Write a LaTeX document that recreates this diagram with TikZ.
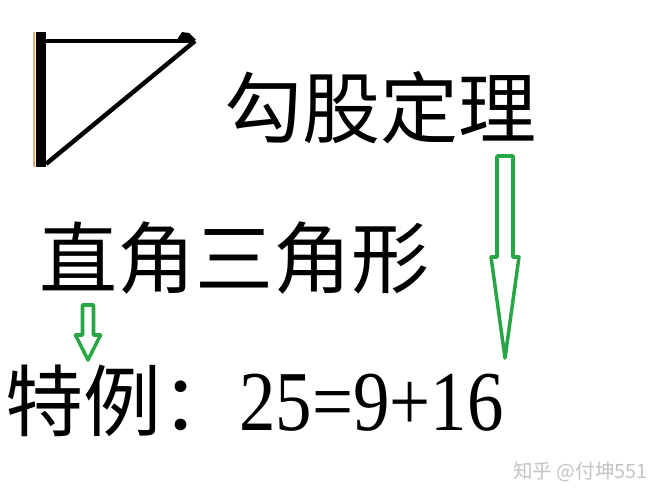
\documentclass[tikz,border=0pt]{standalone}
\usepackage{fontspec}
\setmainfont{Liberation Serif}
\newfontfamily\cjk{Noto Sans CJK SC}
\usetikzlibrary{calc}
\definecolor{arrowgreen}{RGB}{40,165,70}
\definecolor{edgetan}{RGB}{225,170,110}
\definecolor{markgray}{RGB}{195,195,195}
\begin{document}
\begin{tikzpicture}[x=0.03cm, y=-0.03cm,
        bigtext/.style={inner sep=0pt, anchor=base west, font=\cjk\fontsize{66.6}{70}\selectfont},
        hollow/.style={draw=arrowgreen, line width=3pt, line join=round}]
        \useasboundingbox (0,0) rectangle (667,500);

        % Draw the right triangle (thick left leg)
        \draw[edgetan, line width=2.5pt] (34,32) -- (34,167);
        \fill (36,32) rectangle (46,167);
        \draw[line width=2.6pt] (46,41) -- (195,41);
        \draw[line width=3.8pt] (195,41) -- (46,164);
        \fill (176,41) -- (182,32) -- (189,33) -- (196,40) -- cycle;

        % Labels
        \node[bigtext] (pythag) at (224,137.5) {勾股定理};
        \node[bigtext] (righttri) at (39,287.5) {直角三角形};
        \node[bigtext] (special) at (5,430) {特例：\rmfamily\fontsize{62.2}{70}\selectfont\scalebox{1}[1.17]{25=9+16}};

        % Hollow arrows down to the example
        \coordinate (longtail) at (505,156);
        \coordinate (longtip) at (505,358);
        \draw[hollow] ($(longtail)+(-8,0)$) -- ($(longtail)+(8,0)$) -- ($(longtail)+(8,101)$)
            -- ($(longtail)+(14,101)$) -- (longtip) -- ($(longtail)+(-14,101)$)
            -- ($(longtail)+(-8,101)$) -- cycle;
        \coordinate (shorttail) at (88,305);
        \coordinate (shorttip) at (88,360);
        \draw[hollow] ($(shorttail)+(-5.5,0)$) -- ($(shorttail)+(5.5,0)$) -- ($(shorttail)+(5.5,30)$)
            -- ($(shorttail)+(12.5,30)$) -- (shorttip) -- ($(shorttail)+(-12.5,30)$)
            -- ($(shorttail)+(-5.5,30)$) -- cycle;

        % Watermark
        \node[anchor=west, inner sep=0pt, text=markgray, font=\cjk\fontsize{16.8}{18}\selectfont] (mark) at (513,472) {知乎 @付坤551};
    \end{tikzpicture}
\end{document}
